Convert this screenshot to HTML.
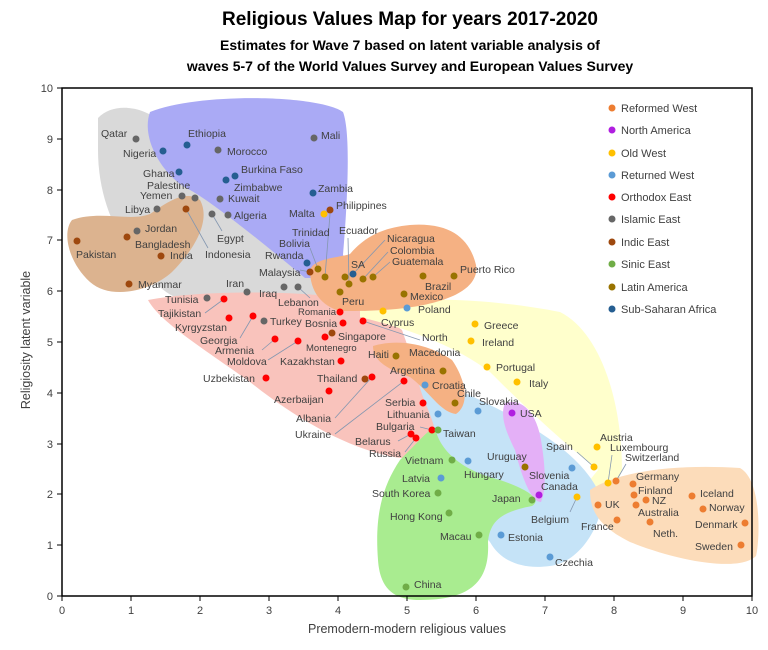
<!DOCTYPE html>
<html><head><meta charset="utf-8"><style>
body{margin:0;background:#fff;width:768px;height:645px;overflow:hidden}
svg text{font-family:"Liberation Sans",sans-serif}
.l{font-size:10.5px;fill:#404040}
</style></head><body>
<svg width="768" height="645" viewBox="0 0 768 645" xmlns="http://www.w3.org/2000/svg">
<text x="410" y="25" text-anchor="middle" font-size="19" font-weight="bold" fill="#000">Religious Values Map for years 2017-2020</text>
<text x="410" y="50" text-anchor="middle" font-size="14" font-weight="bold" fill="#000">Estimates for Wave 7 based on latent variable analysis of</text>
<text x="410" y="71" text-anchor="middle" font-size="14" font-weight="bold" fill="#000">waves 5-7 of the World Values Survey and European Values Survey</text>

<!-- regions -->
<path d="M98,118 C115,100 150,108 162,125 C178,152 205,190 262,230 C300,258 325,285 325,302 L240,312 L200,306 C170,300 150,282 140,262 C118,240 98,200 98,150 Z" fill="#d9d9d9"/>
<path d="M150,112 C200,92 320,95 343,112 C352,135 346,220 343,255 L358,278 L305,278 C262,242 212,202 190,190 C165,178 140,140 150,112 Z" fill="#aaaaf5"/>
<path d="M72,220 C100,210 130,222 150,214 C170,200 186,190 200,200 C212,222 192,252 172,272 C150,292 110,300 90,282 C68,262 62,232 72,220 Z" fill="#dcb38f"/>
<path d="M148,300 C200,290 300,290 360,300 L402,330 L416,370 C430,380 440,400 446,430 C441,450 431,456 411,459 C360,456 300,422 250,382 C200,346 160,322 148,300 Z" fill="#f9c3bc"/>
<path d="M360,305 C420,295 500,300 560,312 C600,332 622,400 622,470 C612,502 592,512 572,502 L598,470 C560,440 520,402 490,372 C450,342 400,327 360,317 Z" fill="#ffffcc"/>
<path d="M418,378 C440,380 470,395 500,410 C560,440 592,470 602,500 C602,522 582,562 550,566 C520,570 500,560 490,542 C480,530 470,520 460,510 C450,480 440,450 435,430 C430,410 420,395 418,378 Z" fill="#c5e3f7"/>
<path d="M505,403 C520,398 536,410 541,440 C546,470 546,490 541,502 C530,502 520,470 515,450 C505,430 500,415 505,403 Z" fill="#e4b0f7"/>
<path d="M435,428 C440,450 460,470 500,480 C530,490 542,500 532,506 C500,512 490,522 488,542 C490,582 470,600 420,600 C395,600 380,590 378,560 C375,520 380,490 400,460 C420,440 430,428 435,428 Z" fill="#a9ec90"/>
<path d="M590,490 C620,470 680,464 740,468 C762,480 760,540 756,556 C740,572 680,562 630,542 C600,527 590,512 590,490 Z" fill="#fcdcba"/>
<path d="M310,270 C314,258 338,258 350,254 C362,240 378,228 410,225 C452,222 470,240 476,265 C480,290 445,302 412,307 C386,311 360,311 340,311 C322,306 310,292 310,270 Z" fill="#f5b183"/>
<path d="M373,346 C400,338 430,345 452,360 C466,380 470,405 456,414 C440,412 430,392 410,377 C390,370 373,362 373,346 Z" fill="#f5b183"/>

<!-- axes -->
<rect x="62" y="88" width="690" height="508" fill="none" stroke="#000" stroke-width="1.5"/>
<g stroke="#000" stroke-width="1">
<line x1="57" y1="88" x2="62" y2="88"/><line x1="57" y1="139" x2="62" y2="139"/><line x1="57" y1="190" x2="62" y2="190"/><line x1="57" y1="240" x2="62" y2="240"/><line x1="57" y1="291" x2="62" y2="291"/><line x1="57" y1="342" x2="62" y2="342"/><line x1="57" y1="393" x2="62" y2="393"/><line x1="57" y1="444" x2="62" y2="444"/><line x1="57" y1="494" x2="62" y2="494"/><line x1="57" y1="545" x2="62" y2="545"/><line x1="57" y1="596" x2="62" y2="596"/>
<line x1="62" y1="596" x2="62" y2="601"/><line x1="131" y1="596" x2="131" y2="601"/><line x1="200" y1="596" x2="200" y2="601"/><line x1="269" y1="596" x2="269" y2="601"/><line x1="338" y1="596" x2="338" y2="601"/><line x1="407" y1="596" x2="407" y2="601"/><line x1="476" y1="596" x2="476" y2="601"/><line x1="545" y1="596" x2="545" y2="601"/><line x1="614" y1="596" x2="614" y2="601"/><line x1="683" y1="596" x2="683" y2="601"/><line x1="752" y1="596" x2="752" y2="601"/>
</g>
<g font-size="11" fill="#404040" text-anchor="end">
<text x="53" y="92">10</text><text x="53" y="143">9</text><text x="53" y="194">8</text><text x="53" y="244">7</text><text x="53" y="295">6</text><text x="53" y="346">5</text><text x="53" y="397">4</text><text x="53" y="448">3</text><text x="53" y="498">2</text><text x="53" y="549">1</text><text x="53" y="600">0</text>
</g>
<g font-size="11" fill="#404040" text-anchor="middle">
<text x="62" y="614">0</text><text x="131" y="614">1</text><text x="200" y="614">2</text><text x="269" y="614">3</text><text x="338" y="614">4</text><text x="407" y="614">5</text><text x="476" y="614">6</text><text x="545" y="614">7</text><text x="614" y="614">8</text><text x="683" y="614">9</text><text x="752" y="614">10</text>
</g>
<text x="407" y="633" text-anchor="middle" font-size="12.5" fill="#404040">Premodern-modern religious values</text>
<text transform="translate(30,340) rotate(-90)" text-anchor="middle" font-size="12.5" fill="#404040">Religiosity latent variable</text>

<!-- leader lines -->
<g stroke="#8497b0" stroke-width="0.8">
<line x1="186" y1="209" x2="208" y2="248"/><line x1="212" y1="214" x2="222" y2="231"/><line x1="318" y1="269" x2="310" y2="248"/><line x1="325" y1="277" x2="330" y2="214"/><line x1="349" y1="284" x2="348" y2="238"/><line x1="353" y1="274" x2="385" y2="240"/><line x1="363" y1="279" x2="388" y2="252"/><line x1="373" y1="277" x2="390" y2="262"/><line x1="298" y1="287" x2="310" y2="298"/><line x1="224" y1="299" x2="205" y2="313"/><line x1="253" y1="316" x2="240" y2="338"/><line x1="275" y1="339" x2="262" y2="350"/><line x1="298" y1="341" x2="268" y2="360"/><line x1="363" y1="321" x2="420" y2="340"/><line x1="372" y1="377" x2="335" y2="418"/><line x1="404" y1="381" x2="335" y2="434"/><line x1="432" y1="430" x2="420" y2="427"/><line x1="411" y1="434" x2="398" y2="441"/><line x1="416" y1="438" x2="405" y2="452"/><line x1="594" y1="467" x2="577" y2="452"/><line x1="608" y1="483" x2="612" y2="455"/><line x1="616" y1="481" x2="626" y2="464"/><line x1="577" y1="497" x2="570" y2="512"/><line x1="310" y1="272" x2="300" y2="270"/></g>

<!-- points -->
<g fill="#666">
<circle cx="136" cy="139" r="3.5"/><circle cx="218" cy="150" r="3.5"/><circle cx="314" cy="138" r="3.5"/><circle cx="182" cy="196" r="3.5"/><circle cx="195" cy="198" r="3.5"/><circle cx="220" cy="199" r="3.5"/><circle cx="157" cy="209" r="3.5"/><circle cx="212" cy="214" r="3.5"/><circle cx="228" cy="215" r="3.5"/><circle cx="137" cy="231" r="3.5"/><circle cx="247" cy="292" r="3.5"/><circle cx="284" cy="287" r="3.5"/><circle cx="298" cy="287" r="3.5"/><circle cx="207" cy="298" r="3.5"/><circle cx="264" cy="321" r="3.5"/></g>
<g fill="#255e91">
<circle cx="187" cy="145" r="3.5"/><circle cx="163" cy="151" r="3.5"/><circle cx="179" cy="172" r="3.5"/><circle cx="235" cy="176" r="3.5"/><circle cx="226" cy="180" r="3.5"/><circle cx="313" cy="193" r="3.5"/><circle cx="307" cy="263" r="3.5"/><circle cx="353" cy="274" r="3.5"/></g>
<g fill="#9e480e">
<circle cx="77" cy="241" r="3.5"/><circle cx="127" cy="237" r="3.5"/><circle cx="161" cy="256" r="3.5"/><circle cx="186" cy="209" r="3.5"/><circle cx="129" cy="284" r="3.5"/><circle cx="330" cy="210" r="3.5"/><circle cx="310" cy="272" r="3.5"/><circle cx="332" cy="333" r="3.5"/><circle cx="365" cy="379" r="3.5"/></g>
<g fill="#ffc000">
<circle cx="324" cy="214" r="3.5"/><circle cx="383" cy="311" r="3.5"/><circle cx="475" cy="324" r="3.5"/><circle cx="471" cy="341" r="3.5"/><circle cx="487" cy="367" r="3.5"/><circle cx="517" cy="382" r="3.5"/><circle cx="597" cy="447" r="3.5"/><circle cx="594" cy="467" r="3.5"/><circle cx="608" cy="483" r="3.5"/><circle cx="577" cy="497" r="3.5"/></g>
<g fill="#997300">
<circle cx="318" cy="269" r="3.5"/><circle cx="325" cy="277" r="3.5"/><circle cx="345" cy="277" r="3.5"/><circle cx="349" cy="284" r="3.5"/><circle cx="363" cy="279" r="3.5"/><circle cx="373" cy="277" r="3.5"/><circle cx="340" cy="292" r="3.5"/><circle cx="423" cy="276" r="3.5"/><circle cx="454" cy="276" r="3.5"/><circle cx="404" cy="294" r="3.5"/><circle cx="396" cy="356" r="3.5"/><circle cx="443" cy="371" r="3.5"/><circle cx="455" cy="403" r="3.5"/><circle cx="525" cy="467" r="3.5"/></g>
<g fill="#5b9bd5">
<circle cx="407" cy="308" r="3.5"/><circle cx="425" cy="385" r="3.5"/><circle cx="478" cy="411" r="3.5"/><circle cx="438" cy="414" r="3.5"/><circle cx="468" cy="461" r="3.5"/><circle cx="441" cy="478" r="3.5"/><circle cx="572" cy="468" r="3.5"/><circle cx="501" cy="535" r="3.5"/><circle cx="550" cy="557" r="3.5"/></g>
<g fill="#b01ee0"><circle cx="512" cy="413" r="3.5"/><circle cx="539" cy="495" r="3.5"/></g>
<g fill="#ff0000">
<circle cx="340" cy="312" r="3.5"/><circle cx="343" cy="323" r="3.5"/><circle cx="363" cy="321" r="3.5"/><circle cx="325" cy="337" r="3.5"/><circle cx="341" cy="361" r="3.5"/><circle cx="224" cy="299" r="3.5"/><circle cx="229" cy="318" r="3.5"/><circle cx="253" cy="316" r="3.5"/><circle cx="275" cy="339" r="3.5"/><circle cx="298" cy="341" r="3.5"/><circle cx="266" cy="378" r="3.5"/><circle cx="329" cy="391" r="3.5"/><circle cx="372" cy="377" r="3.5"/><circle cx="404" cy="381" r="3.5"/><circle cx="423" cy="403" r="3.5"/><circle cx="432" cy="430" r="3.5"/><circle cx="411" cy="434" r="3.5"/><circle cx="416" cy="438" r="3.5"/></g>
<g fill="#70ad47">
<circle cx="438" cy="430" r="3.5"/><circle cx="452" cy="460" r="3.5"/><circle cx="438" cy="493" r="3.5"/><circle cx="532" cy="500" r="3.5"/><circle cx="449" cy="513" r="3.5"/><circle cx="479" cy="535" r="3.5"/><circle cx="406" cy="587" r="3.5"/></g>
<g fill="#ed7d31">
<circle cx="616" cy="481" r="3.5"/><circle cx="633" cy="484" r="3.5"/><circle cx="634" cy="495" r="3.5"/><circle cx="646" cy="500" r="3.5"/><circle cx="598" cy="505" r="3.5"/><circle cx="636" cy="505" r="3.5"/><circle cx="617" cy="520" r="3.5"/><circle cx="692" cy="496" r="3.5"/><circle cx="703" cy="509" r="3.5"/><circle cx="650" cy="522" r="3.5"/><circle cx="745" cy="523" r="3.5"/><circle cx="741" cy="545" r="3.5"/></g>

<!-- labels -->
<g class="l">
<text x="101" y="137">Qatar</text><text x="188" y="137">Ethiopia</text><text x="123" y="157">Nigeria</text><text x="227" y="155">Morocco</text><text x="321" y="139">Mali</text>
<text x="143" y="177">Ghana</text><text x="241" y="173">Burkina Faso</text><text x="147" y="189">Palestine</text><text x="140" y="199">Yemen</text><text x="234" y="191">Zimbabwe</text>
<text x="228" y="202">Kuwait</text><text x="318" y="192">Zambia</text><text x="336" y="209">Philippines</text><text x="289" y="217">Malta</text><text x="125" y="213">Libya</text>
<text x="234" y="219">Algeria</text><text x="217" y="242">Egypt</text><text x="145" y="232">Jordan</text><text x="292" y="236">Trinidad</text><text x="339" y="234">Ecuador</text>
<text x="135" y="248">Bangladesh</text><text x="76" y="258">Pakistan</text><text x="170" y="259">India</text><text x="205" y="258">Indonesia</text><text x="279" y="247">Bolivia</text>
<text x="265" y="259">Rwanda</text><text x="351" y="268">SA</text><text x="387" y="242">Nicaragua</text><text x="390" y="254">Colombia</text><text x="392" y="265">Guatemala</text>
<text x="460" y="273">Puerto Rico</text><text x="259" y="276">Malaysia</text><text x="425" y="290">Brazil</text><text x="138" y="288">Myanmar</text><text x="226" y="287">Iran</text>
<text x="259" y="297">Iraq</text><text x="278" y="306">Lebanon</text><text x="342" y="305">Peru</text><text x="410" y="300">Mexico</text><text x="418" y="313">Poland</text>
<text x="165" y="303">Tunisia</text><text x="158" y="317">Tajikistan</text><text x="298" y="315" font-size="9.5">Romania</text><text x="381" y="326">Cyprus</text><text x="484" y="329">Greece</text>
<text x="270" y="325">Turkey</text><text x="305" y="327">Bosnia</text><text x="175" y="331">Kyrgyzstan</text><text x="422" y="341">North</text><text x="338" y="340">Singapore</text>
<text x="482" y="346">Ireland</text><text x="200" y="344">Georgia</text><text x="306" y="351" font-size="9.5">Montenegro</text><text x="409" y="356">Macedonia</text><text x="368" y="358">Haiti</text>
<text x="215" y="354">Armenia</text><text x="227" y="365">Moldova</text><text x="280" y="365">Kazakhstan</text><text x="496" y="371">Portugal</text><text x="390" y="374">Argentina</text>
<text x="203" y="382">Uzbekistan</text><text x="317" y="382">Thailand</text><text x="529" y="387">Italy</text><text x="432" y="389">Croatia</text><text x="274" y="403">Azerbaijan</text>
<text x="457" y="397">Chile</text><text x="479" y="405">Slovakia</text><text x="385" y="406">Serbia</text><text x="520" y="417">USA</text><text x="387" y="418">Lithuania</text>
<text x="296" y="422">Albania</text><text x="376" y="430">Bulgaria</text><text x="443" y="437">Taiwan</text><text x="295" y="438">Ukraine</text><text x="355" y="445">Belarus</text>
<text x="600" y="441">Austria</text><text x="546" y="450">Spain</text><text x="610" y="451">Luxembourg</text><text x="369" y="457">Russia</text><text x="625" y="461">Switzerland</text>
<text x="487" y="460">Uruguay</text><text x="405" y="464">Vietnam</text><text x="529" y="479">Slovenia</text><text x="636" y="480">Germany</text><text x="464" y="478">Hungary</text>
<text x="402" y="482">Latvia</text><text x="541" y="490">Canada</text><text x="638" y="494">Finland</text><text x="700" y="497">Iceland</text><text x="372" y="497">South Korea</text>
<text x="652" y="504">NZ</text><text x="492" y="502">Japan</text><text x="605" y="508">UK</text><text x="709" y="511">Norway</text><text x="638" y="516">Australia</text>
<text x="531" y="523">Belgium</text><text x="390" y="520">Hong Kong</text><text x="581" y="530">France</text><text x="695" y="528">Denmark</text><text x="653" y="537">Neth.</text>
<text x="440" y="540">Macau</text><text x="508" y="541">Estonia</text><text x="695" y="550">Sweden</text><text x="555" y="566">Czechia</text><text x="414" y="588">China</text>
</g>

<!-- legend -->
<g font-size="11" fill="#404040">
<circle cx="612" cy="108" r="3.5" fill="#ed7d31"/><text x="621" y="112">Reformed West</text>
<circle cx="612" cy="130" r="3.5" fill="#b01ee0"/><text x="621" y="134">North America</text>
<circle cx="612" cy="153" r="3.5" fill="#ffc000"/><text x="621" y="157">Old West</text>
<circle cx="612" cy="175" r="3.5" fill="#5b9bd5"/><text x="621" y="179">Returned West</text>
<circle cx="612" cy="197" r="3.5" fill="#ff0000"/><text x="621" y="201">Orthodox East</text>
<circle cx="612" cy="219" r="3.5" fill="#666"/><text x="621" y="223">Islamic East</text>
<circle cx="612" cy="242" r="3.5" fill="#9e480e"/><text x="621" y="246">Indic East</text>
<circle cx="612" cy="264" r="3.5" fill="#70ad47"/><text x="621" y="268">Sinic East</text>
<circle cx="612" cy="287" r="3.5" fill="#997300"/><text x="621" y="291">Latin America</text>
<circle cx="612" cy="309" r="3.5" fill="#255e91"/><text x="621" y="313">Sub-Saharan Africa</text>
</g>
</svg>
</body></html>
